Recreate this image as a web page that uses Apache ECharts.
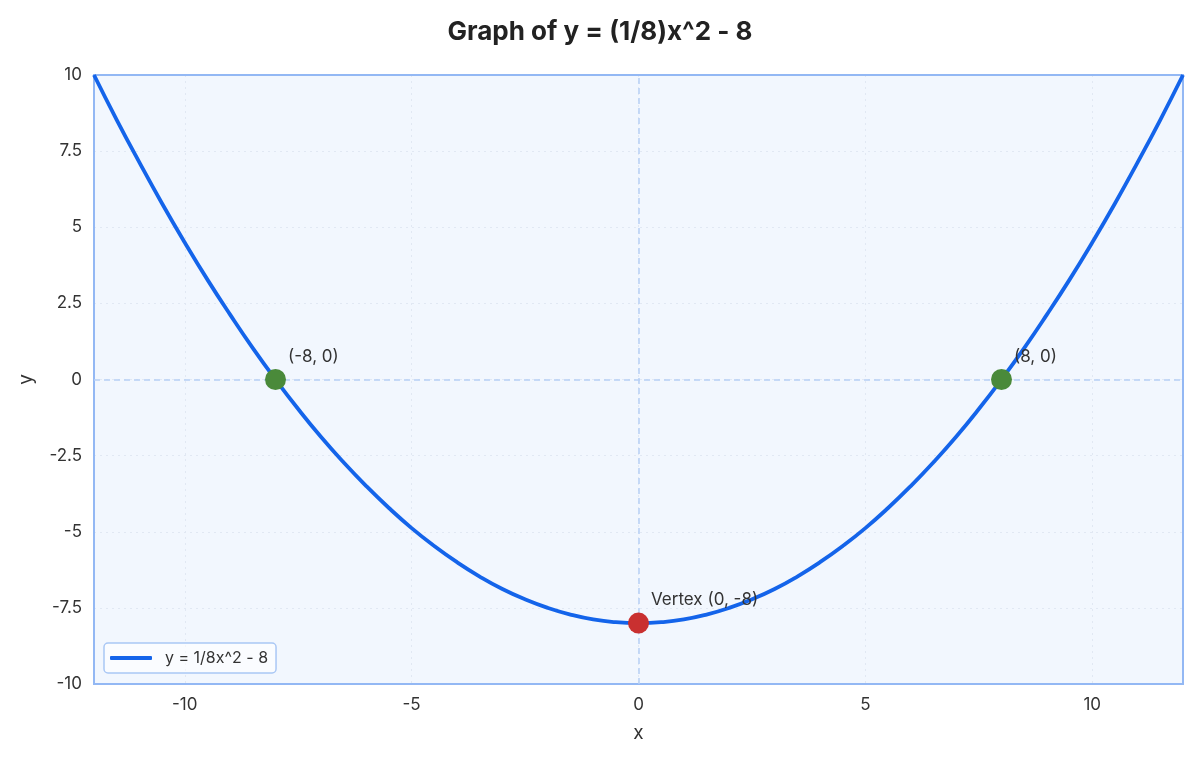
<!DOCTYPE html>
<html>
<head>
<meta charset="utf-8">
<script src="https://cdn.jsdelivr.net/npm/echarts@6/dist/echarts.min.js"></script>
<style>
  html, body { margin: 0; padding: 0; background: #fff; }
  #main { width: 1200px; height: 760px; }
</style>
</head>
<body>
<div id="main"></div>
<script>
  // curve values
  var xs = [-12, -11.5, -11, -10.5, -10, -9.5, -9, -8.5, -8, -7.5, -7, -6.5, -6, -5.5, -5, -4.5, -4,
            -3.5, -3, -2.5, -2, -1.5, -1, -0.5, 0, 0.5, 1, 1.5, 2, 2.5, 3, 3.5, 4, 4.5, 5, 5.5, 6,
            6.5, 7, 7.5, 8, 8.5, 9, 9.5, 10, 10.5, 11, 11.5, 12];
  var ys = [10, 8.53, 7.13, 5.78, 4.5, 3.28, 2.13, 1.03, 0, -0.97, -1.88, -2.72, -3.5, -4.22, -4.88, -5.47, -6,
            -6.47, -6.88, -7.22, -7.5, -7.72, -7.88, -7.97, -8, -7.97, -7.88, -7.72, -7.5, -7.22, -6.88, -6.47, -6,
            -5.47, -4.88, -4.22, -3.5, -2.72, -1.88, -0.97, 0, 1.03, 2.13, 3.28, 4.5, 5.78, 7.13, 8.53, 10];
  var rootPoints = [[-8, 0], [8, 0]];
  var rootLabels = ['(-8, 0)', '(8, 0)'];
  var vertexPoint = [0, -8];
  var vertexLabel = 'Vertex (0, -8)';
  var xTicks = [-10, -5, 0, 5, 10];
  var yTicks = [-10, -7.5, -5, -2.5, 0, 2.5, 5, 7.5, 10];

  var font = 'Inter, "Noto Sans", sans-serif';
  var curve = [];
  for (var i = 0; i < xs.length; i++) curve.push([xs[i], ys[i]]);

  var myChart = echarts.init(document.getElementById('main'));
  var option = {
    animation: false,
    title: {
      text: 'Graph of y = (1/8)x^2 - 8',
      left: 'center',
      top: 14,
      textStyle: { fontFamily: font, fontSize: 26, fontWeight: 'bold', color: '#222' }
    },
    legend: {
      left: 104,
      bottom: 87,
      data: ['y = 1/8x^2 - 8'],
      backgroundColor: 'rgba(255,255,255,0.6)',
      borderColor: '#a9c7f5',
      borderWidth: 1.5,
      borderRadius: 4,
      padding: [7, 8, 7, 6],
      itemWidth: 42,
      itemHeight: 4,
      icon: 'roundRect',
      textStyle: { fontFamily: font, fontSize: 16, color: '#333', padding: [0, 0, 0, 8] }
    },
    grid: { left: 94, right: 17, top: 75, bottom: 76, backgroundColor: '#f2f7fe', show: true, borderWidth: 0 },
    xAxis: {
      type: 'value', min: -12, max: 12,
      name: 'x', nameLocation: 'middle', nameGap: 40,
      nameTextStyle: { fontFamily: font, fontSize: 19, color: '#333' },
      axisLine: { show: false },
      axisTick: { show: false, customValues: xTicks },
      axisLabel: { fontFamily: font, fontSize: 17, color: '#333', margin: 12, customValues: xTicks },
      splitLine: { show: true, lineStyle: { color: '#e1e8f3', type: [2, 4], width: 1 } }
    },
    yAxis: {
      type: 'value', min: -10, max: 10, interval: 2.5,
      name: 'y', nameLocation: 'middle', nameGap: 58,
      nameTextStyle: { fontFamily: font, fontSize: 19, color: '#333' },
      axisLine: { show: false },
      axisTick: { show: false },
      axisLabel: { fontFamily: font, fontSize: 17, color: '#333', margin: 12,
        formatter: function (v) { return yTicks.indexOf(v) >= 0 ? String(v) : ''; } },
      splitLine: { show: true, lineStyle: { color: '#e1e8f3', type: [2, 4], width: 1 } }
    },
    series: [
      {
        name: 'y = 1/8x^2 - 8',
        type: 'line',
        data: curve,
        smooth: true,
        showSymbol: false,
        color: '#1464ea',
        lineStyle: { width: 3.8, color: '#1464ea' },
        z: 3,
        markLine: {
          silent: true,
          symbol: 'none',
          label: { show: false },
          lineStyle: { color: '#b7cff5', type: [6, 4], width: 1.5 },
          data: [{ xAxis: 0 }, { yAxis: 0 }]
        }
      },
      {
        name: 'border',
        type: 'line',
        data: [],
        markArea: {
          silent: true,
          itemStyle: { color: 'rgba(0,0,0,0)', borderColor: '#93b8f4', borderWidth: 2 },
          data: [[{ coord: [-12, -10] }, { coord: [12, 10] }]]
        }
      },
      {
        name: 'roots',
        type: 'scatter',
        data: rootPoints.map(function (p, k) { return { value: p, label: { formatter: rootLabels[k] } }; }),
        symbolSize: 21,
        itemStyle: { color: '#4a8a3a', opacity: 1 },
        z: 5,
        label: {
          show: true, position: 'right', offset: [0, -23], distance: 2,
          fontFamily: font, fontSize: 17, color: '#333'
        }
      },
      {
        name: 'vertex',
        type: 'scatter',
        data: [{ value: vertexPoint, label: { formatter: vertexLabel } }],
        symbolSize: 21,
        itemStyle: { color: '#c93030', opacity: 1 },
        z: 5,
        label: {
          show: true, position: 'right', offset: [0, -23], distance: 2,
          fontFamily: font, fontSize: 17, color: '#333'
        }
      }
    ]
  };
  myChart.setOption(option);
</script>
</body>
</html>
